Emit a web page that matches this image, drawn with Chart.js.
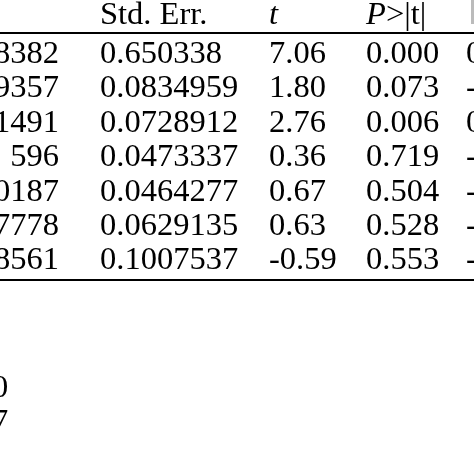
<!DOCTYPE html><html><head><style>html,body{margin:0;background:#fff}#w{width:474px;height:474px}</style>
<script src="https://cdn.jsdelivr.net/npm/chart.js"></script></head><body><div id="w"><canvas id="c"></canvas></div>
<script>
const leftCol=["8382","9357","1491","596","0187","7778","98561"];
const stdErr=["0.650338","0.0834959","0.0728912","0.0473337","0.0464277","0.0629135","0.1007537"];
const tVals=["7.06","1.80","2.76","0.36","0.67","0.63","-0.59"];
const pVals=["0.000","0.073","0.006","0.719","0.504","0.528","0.553"];
const rightCol=["0","-","0","-","-","-","-"];
const rowY=[54,88,123,157,192,226,260];
const footer=["0","7"];
const footerY=[388,422];
const F='Liberation Serif';
const plug={id:'tbl',afterDraw(ch){const c=ch.ctx,x=ch.scales.x,y=ch.scales.y;c.save();c.fillStyle='#000';c.textBaseline='middle';
const fs='32.5px "'+F+'"';
c.font=fs;c.textAlign='left';
c.fillText('Std. Err.',x.getPixelForValue(100),y.getPixelForValue(15));
c.font='italic '+fs;c.fillText('t',x.getPixelForValue(269),y.getPixelForValue(15));
c.fillText('P',x.getPixelForValue(366),y.getPixelForValue(15));
c.font=fs;c.fillText('>|t|',x.getPixelForValue(386),y.getPixelForValue(15));
c.fillStyle='#bbb';c.fillRect(x.getPixelForValue(471),y.getPixelForValue(0),3,24);c.fillStyle='#000';
c.strokeStyle='#000';c.lineWidth=2;
[33,280].forEach(v=>{c.beginPath();c.moveTo(x.getPixelForValue(0),y.getPixelForValue(v));c.lineTo(x.getPixelForValue(474),y.getPixelForValue(v));c.stroke();});
rowY.forEach((r,i)=>{const py=y.getPixelForValue(r);
c.textAlign='right';c.fillText(leftCol[i],x.getPixelForValue(59),py);
c.textAlign='left';c.fillText(stdErr[i],x.getPixelForValue(100),py);
c.fillText(tVals[i],x.getPixelForValue(269),py);
c.fillText(pVals[i],x.getPixelForValue(366),py);
c.fillText(rightCol[i],x.getPixelForValue(466),py);});
footer.forEach((f,i)=>{c.fillText(f,x.getPixelForValue(-8),y.getPixelForValue(footerY[i]));});
c.restore();}};
new Chart(document.getElementById('c'),{type:'scatter',data:{datasets:[{data:[]}]},plugins:[plug],
options:{responsive:true,maintainAspectRatio:false,animation:false,layout:{padding:0},plugins:{legend:{display:false},tooltip:{enabled:false}},
scales:{x:{type:'linear',min:0,max:474,display:false},y:{type:'linear',min:0,max:474,reverse:true,display:false}}}});
</script></body></html>
